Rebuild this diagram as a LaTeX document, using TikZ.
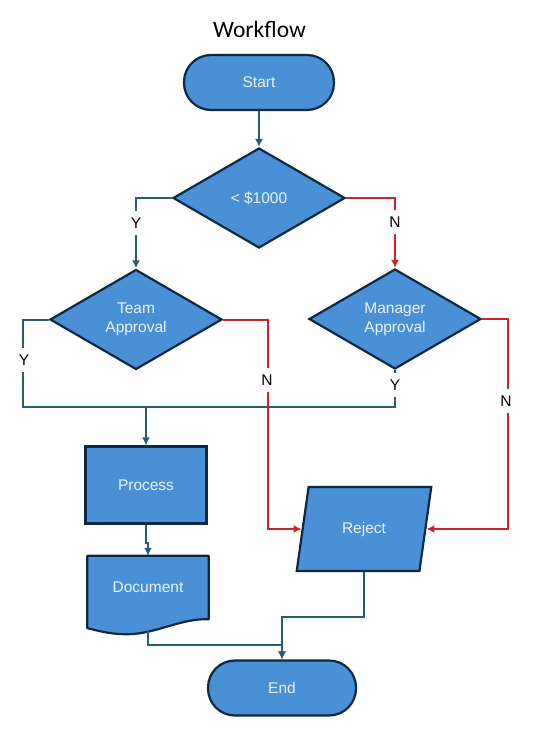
\documentclass[tikz,border=0pt]{standalone}
\usepackage{fontspec}
\setmainfont{Liberation Sans}
\newfontfamily\titlefont{Carlito}
\usetikzlibrary{shapes.geometric,arrows.meta,calc,backgrounds}

\definecolor{boxfill}{HTML}{4A90D6}
\definecolor{boxline}{HTML}{0E2841}
\definecolor{boxtext}{HTML}{E8F1FB}
\definecolor{yescol}{HTML}{255E74}
\definecolor{nocol}{HTML}{C8262C}

\tikzset{
  shapebox/.style={draw=boxline, fill=boxfill, line width=2.2pt, text=boxtext,
    font=\fontsize{15.5}{19}\selectfont, align=center, inner sep=0pt},
  terminal/.style={shapebox, rectangle, rounded corners=27pt,
    minimum width=150pt, minimum height=55pt},
  procbox/.style={shapebox, rectangle, minimum width=121pt, minimum height=77pt},
  iobox/.style={shapebox, trapezium, trapezium left angle=72, trapezium right angle=108,
    trapezium stretches=true, minimum width=135pt, minimum height=84pt},
  docbox/.style={text=boxtext, font=\fontsize{15.5}{19}\selectfont, inner sep=0pt,
    minimum width=121pt, minimum height=63pt},
  flowline/.style={draw=yescol, line width=2pt},
  flow/.style={flowline, -{Latex[length=8pt,width=8pt]}},
  noflow/.style={draw=nocol, line width=2pt, -{Latex[length=8pt,width=8pt]}},
  lbl/.style={fill=white, inner sep=1pt, minimum height=24pt, font=\fontsize{15.5}{18}\selectfont},
}

\begin{document}
\begin{tikzpicture}[x=1pt, y=-1pt]
   % Sizes
   \pgfmathsetmacro{\diaw}{172}
   \pgfmathsetmacro{\diah}{100}
   \tikzset{decision/.style={shapebox, diamond, aspect=1.72,
     minimum width=\diaw pt, minimum height=\diah pt}}
   \useasboundingbox (0,0) rectangle (547,736);

   % nodes
   \node[font=\titlefont\fontsize{23.5}{26}\selectfont] (title) at (259.5,29) {Workflow};
   \node[terminal] (start) at (259,82.5) {Start};
   \node[decision] (dec) at (259,198) {< \$1000};
   \node[decision] (tappr) at (136,319.5) {Team\\Approval};
   \node[decision] (mappr) at (395,319) {Manager\\Approval};
   \node[procbox] (proc) at (146,485) {Process};
   \node[docbox] (doc) at (148,587.5) {Document};
   \node[iobox] (rej) at (364,529) {Reject};
   \node[terminal, minimum width=148pt] (end) at (282,688) {End};
   \coordinate (merge) at (146,407);
   \coordinate (docout) at ($(doc.south)+(0,11)$);

   % document outline
   \begin{scope}[on background layer]
     \draw[draw=boxline, fill=boxfill, line width=2.2pt, line join=round]
       (doc.north west) -- (doc.north east) -- (doc.south east)
       .. controls +(-28,-1) and +(28,0) .. ($(doc.south west)+(40,15)$)
       .. controls +(-20,0) and +(10,2) .. ($(doc.south west)+(0,9)$)
       -- cycle;
   \end{scope}

   % draw diagram
   \draw[flow] (start) -- (dec);
   \draw[flow] (dec.west) -| (tappr.north);
   \draw[flowline] (tappr.west) -- ++(-26,0) |- (merge);
   \draw[flowline] (mappr.south) |- (merge);
   \draw[flow] (merge) -- (proc);
   \draw[flow] (proc.south) -- ++(0,18) -| (doc.north);
   \draw[flow] (docout) -- ++(0,15) -| (end.north);
   \draw[flow] (rej.south) -- ++(0,45) -| (end.north);
   \draw[noflow] (dec.east) -| (mappr.north);
   \draw[noflow] (tappr.east) -- ++(45,0) |- (rej.left side);
   \draw[noflow] (mappr.east) -- ++(26,0) |- (rej.right side);

   % labels
   \node[lbl] (y1) at (136,223) {Y};
   \node[lbl] (n1) at (395,222) {N};
   \node[lbl] (y2) at (24,360) {Y};
   \node[lbl] (n2) at (267,380) {N};
   \node[lbl] (y3) at (395,385) {Y};
   \node[lbl] (n3) at (506,401) {N};
\end{tikzpicture}
\end{document}
